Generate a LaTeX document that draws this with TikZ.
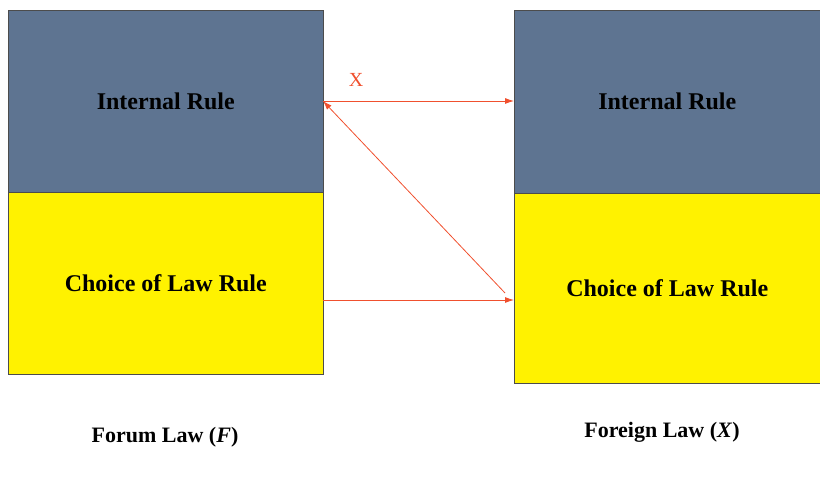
\documentclass[tikz,border=0pt]{standalone}
\usepackage{fontspec}
\setmainfont{Liberation Serif}
\usetikzlibrary{arrows.meta}
\definecolor{slate}{HTML}{5E7491}
\definecolor{arr}{HTML}{F0502E}
\begin{document}
\begin{tikzpicture}[x=1pt,y=-1pt,
  part/.style={draw=black!70,line width=0.6pt,minimum width=315pt,inner sep=0pt,anchor=north west,font=\bfseries\fontsize{24}{28}\selectfont},
  conn/.style={draw=arr,line width=0.8pt,-{Latex[length=9pt,width=6pt]}},
  captext/.style={font=\bfseries\fontsize{22}{26}\selectfont}]
\useasboundingbox (0,0) rectangle (820,478);
\node[part,fill=slate,minimum height=182pt] (li) at (8,10) {Internal Rule};
\node[part,fill=yellow,minimum height=182pt] (lc) at (8,192) {Choice of Law Rule};
\node[part,fill=slate,minimum height=183pt,minimum width=306pt] (ri) at (514,10) {Internal Rule};
\node[part,fill=yellow,minimum height=190pt,minimum width=306pt] (rc) at (514,193) {Choice of Law Rule};
\coordinate (a1) at (323,101);
\coordinate (b1) at (514,101);
\coordinate (a2) at (323,300);
\coordinate (b2) at (514,300);
\coordinate (d1) at (505,293);
\draw[conn] (a1) -- (b1);
\draw[conn] (d1) -- (a1);
\draw[conn] (a2) -- (b2);
\node[text=arr,font=\fontsize{20}{24}\selectfont] (x) at (356,80) {X};
\node[captext] (fl) at (165,437) {Forum Law (\textit{F})};
\node[captext] (xl) at (662,432) {Foreign Law (\textit{X})};
\end{tikzpicture}
\end{document}
